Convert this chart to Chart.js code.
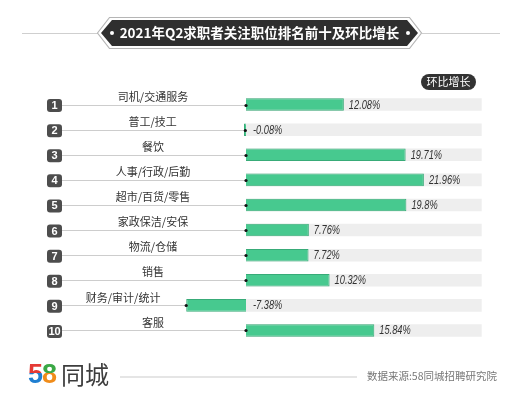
<!DOCTYPE html>
<html>
<head>
<meta charset="utf-8">
<script src="https://cdn.jsdelivr.net/npm/chart.js@4"></script>
<style>
html,body{margin:0;padding:0;background:#fff;}
#c{display:block;}
</style>
</head>
<body>
<canvas id="c" width="508" height="399"></canvas>
<script>
const titleText = '2021年Q2求职者关注职位排名前十及环比增长';
const categories = ['司机/交通服务','普工/技工','餐饮','人事/行政/后勤','超市/百货/零售','家政保洁/安保','物流/仓储','销售','财务/审计/统计','客服'];
const ranks = ['1','2','3','4','5','6','7','8','9','10'];
const growth = [12.08, -0.08, 19.71, 21.96, 19.8, 7.76, 7.72, 10.32, -7.38, 15.84];
const valueLabels = ['12.08%','-0.08%','19.71%','21.96%','19.8%','7.76%','7.72%','10.32%','-7.38%','15.84%'];
const track = [29.1, 29.1, 29.1, 29.1, 29.1, 29.1, 29.1, 29.1, 29.1, 29.1];
const legendText = '环比增长';
const sourceText = '数据来源:58同城招聘研究院';

const CJK = '"Noto Sans CJK SC", "Noto Sans", sans-serif';
const NUM = '"Liberation Sans", Arial, sans-serif';

function rr(ctx, x, y, w, h, r) {
  ctx.beginPath();
  ctx.moveTo(x + r, y);
  ctx.lineTo(x + w - r, y);
  ctx.arcTo(x + w, y, x + w, y + r, r);
  ctx.lineTo(x + w, y + h - r);
  ctx.arcTo(x + w, y + h, x + w - r, y + h, r);
  ctx.lineTo(x + r, y + h);
  ctx.arcTo(x, y + h, x, y + h - r, r);
  ctx.lineTo(x, y + r);
  ctx.arcTo(x, y, x + r, y, r);
  ctx.closePath();
}

const deco = {
  id: 'deco',
  beforeDraw(chart) {
    const ctx = chart.ctx;
    ctx.save();
    ctx.fillStyle = '#fff';
    ctx.fillRect(0, 0, chart.width, chart.height);
    ctx.restore();
  },
  beforeDatasetsDraw(chart) {
    const ctx = chart.ctx, xs = chart.scales.x, ys = chart.scales.y;
    ctx.save();
    categories.forEach((c, i) => {
      const y = Math.round(ys.getPixelForValue(i)) + 0.5;
      const dx = xs.getPixelForValue(Math.min(0, growth[i]));
      ctx.strokeStyle = '#cdcdcd';
      ctx.lineWidth = 1;
      ctx.beginPath();
      ctx.moveTo(62, y);
      ctx.lineTo(dx, y);
      ctx.stroke();
    });
    ctx.restore();
  },
  afterDraw(chart) {
    const ctx = chart.ctx, xs = chart.scales.x, ys = chart.scales.y;
    ctx.save();
    // title lines
    ctx.strokeStyle = '#cfcfcf';
    ctx.lineWidth = 1;
    ctx.beginPath();
    ctx.moveTo(22, 33.5); ctx.lineTo(98, 33.5);
    ctx.moveTo(422, 33.5); ctx.lineTo(500, 33.5);
    ctx.stroke();
    // banner
    const hex = (l, r, t, b, k) => {
      const m = (t + b) / 2;
      ctx.beginPath();
      ctx.moveTo(l, m); ctx.lineTo(l + k, t); ctx.lineTo(r - k, t);
      ctx.lineTo(r, m); ctx.lineTo(r - k, b); ctx.lineTo(l + k, b);
      ctx.closePath();
    };
    hex(97.5, 421.5, 17.5, 48.5, 12);
    ctx.strokeStyle = '#b5b5b5';
    ctx.lineWidth = 1.2;
    ctx.stroke();
    hex(101, 418, 20, 46, 11);
    ctx.fillStyle = '#2f2f2f';
    ctx.fill();
    ctx.fillStyle = '#fff';
    ctx.font = 'bold 13.5px ' + CJK;
    ctx.textAlign = 'center';
    ctx.textBaseline = 'middle';
    ctx.fillText(titleText, 259.5, 33);
    ctx.beginPath(); ctx.arc(112, 33, 2, 0, Math.PI * 2); ctx.fill();
    ctx.beginPath(); ctx.arc(408, 33, 2, 0, Math.PI * 2); ctx.fill();

    // legend pill
    rr(ctx, 421, 74, 55, 16, 8);
    ctx.fillStyle = '#333';
    ctx.fill();
    ctx.fillStyle = '#fff';
    ctx.font = '11px ' + CJK;
    ctx.fillText(legendText, 448.5, 82);

    categories.forEach((c, i) => {
      const yc = ys.getPixelForValue(i);
      const dx = xs.getPixelForValue(Math.min(0, growth[i]));
      // dot
      ctx.fillStyle = '#111';
      ctx.beginPath(); ctx.arc(dx, Math.round(yc) + 0.5, 1.6, 0, Math.PI * 2); ctx.fill();
      // badge
      rr(ctx, 47, yc - 5.5, 15, 13, 3);
      ctx.fillStyle = '#4d4d4d';
      ctx.fill();
      ctx.fillStyle = '#fff';
      ctx.font = 'bold 11px "Liberation Sans", sans-serif';
      ctx.textAlign = 'center';
      ctx.fillText(ranks[i], 54.5, yc + 1.5);
      // category label
      ctx.fillStyle = '#333';
      ctx.font = '11px ' + CJK;
      ctx.fillText(c, (62 + dx) / 2 - 1, yc - 8);
      // value label (narrow italic)
      const v = growth[i];
      const lx = v >= 0 ? xs.getPixelForValue(v) + 5 : xs.getPixelForValue(0) + 7;
      ctx.save();
      ctx.translate(lx, yc + 0.5);
      ctx.scale(0.74, 1);
      ctx.textAlign = 'left';
      ctx.font = 'italic 12.5px ' + NUM;
      ctx.fillStyle = '#333';
      ctx.fillText(valueLabels[i], 0, 0);
      ctx.restore();
    });

    // footer logo
    ctx.textBaseline = 'alphabetic';
    ctx.textAlign = 'left';
    ctx.font = 'bold 27px "Liberation Sans", sans-serif';
    const drawTwo = (ch, x, top, bot) => {
      ctx.save();
      ctx.beginPath(); ctx.rect(x - 2, 355, 30, 18); ctx.clip();
      ctx.fillStyle = top; ctx.fillText(ch, x, 383);
      ctx.restore();
      ctx.save();
      ctx.beginPath(); ctx.rect(x - 2, 373, 30, 20); ctx.clip();
      ctx.fillStyle = bot; ctx.fillText(ch, x, 383);
      ctx.restore();
    };
    drawTwo('5', 28, '#e53a35', '#1f7fd1');
    drawTwo('8', 42, '#3aa845', '#f08c1a');
    ctx.fillStyle = '#3d3d3d';
    ctx.font = '24px ' + CJK;
    ctx.fillText('同城', 61, 384);
    // footer line
    ctx.strokeStyle = '#dcdcdc';
    ctx.lineWidth = 1.5;
    ctx.beginPath(); ctx.moveTo(120, 377); ctx.lineTo(357, 377); ctx.stroke();
    ctx.fillStyle = '#777';
    ctx.font = '10.5px ' + CJK;
    ctx.textAlign = 'right';
    ctx.textBaseline = 'middle';
    ctx.fillText(sourceText, 497, 376);
    ctx.restore();
  }
};

new Chart(document.getElementById('c'), {
  type: 'bar',
  data: {
    labels: categories,
    datasets: [
      {
        data: growth,
        backgroundColor: '#47c98f',
        borderColor: '#38ab78',
        borderWidth: 1,
        borderSkipped: 'start',
        minBarLength: 2,
        barPercentage: 0.5,
        categoryPercentage: 1,
        grouped: false,
        order: 1
      },
      {
        data: track,
        backgroundColor: '#eeeeee',
        borderWidth: 0,
        barPercentage: 0.5,
        categoryPercentage: 1,
        grouped: false,
        order: 2
      }
    ]
  },
  options: {
    indexAxis: 'y',
    responsive: false,
    animation: false,
    devicePixelRatio: 1,
    layout: { padding: { left: 165, right: 19, top: 92, bottom: 56 } },
    plugins: { legend: { display: false }, tooltip: { enabled: false }, title: { display: false } },
    scales: {
      x: { type: 'linear', min: -10, max: 30, display: false },
      y: { type: 'category', display: false }
    }
  },
  plugins: [deco]
});
</script>
</body>
</html>
